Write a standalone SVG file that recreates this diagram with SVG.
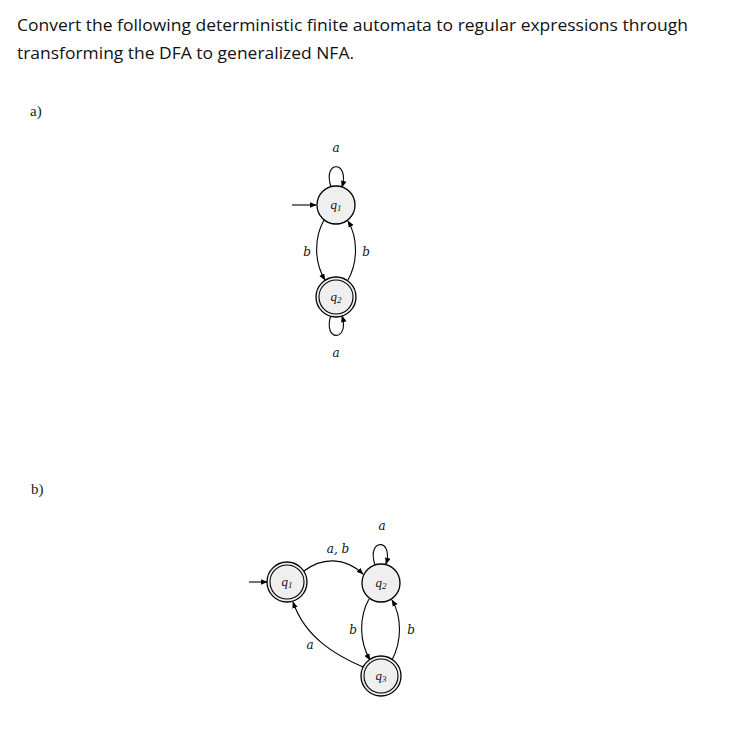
<svg xmlns="http://www.w3.org/2000/svg" width="752" height="745" viewBox="0 0 752 745">
<defs>
<style>
.st{fill:#efefef;stroke:#000;stroke-width:1.3}
.in{fill:none;stroke:#000;stroke-width:1.1}
.e{fill:none;stroke:#000;stroke-width:1.1}
.lb{font-family:"DejaVu Serif","Liberation Serif",serif;font-style:italic;font-size:12px;fill:#111;text-anchor:middle}
.st-t{font-family:"Liberation Serif",serif;font-style:italic;font-size:13px;fill:#111;text-anchor:middle}
.sub{font-family:"Liberation Serif",serif;font-size:9px}
.ttl{font-family:"Open Sans","Liberation Sans",sans-serif;font-size:17px;fill:#111}
.part{font-family:"Liberation Serif",serif;font-size:15px;fill:#222}
</style>
<marker id="ar" viewBox="0 0 10 10" refX="9" refY="5" markerWidth="7" markerHeight="7" orient="auto" markerUnits="userSpaceOnUse">
<path d="M0,1 L10,5 L0,9 z" fill="#000"/>
</marker>
</defs>
<rect width="752" height="745" fill="#fff"/>
<text class="ttl" x="17" y="31" textLength="671" lengthAdjust="spacingAndGlyphs">Convert the following deterministic finite automata to regular expressions through</text>
<text class="ttl" x="17" y="59" textLength="337" lengthAdjust="spacingAndGlyphs">transforming the DFA to generalized NFA.</text>
<text class="part" x="30" y="116">a)</text>
<text class="part" x="31" y="494">b)</text>

<g id="connectors">
<!-- diagram a -->
<path class="e" d="M292,205 L316,205" marker-end="url(#ar)"/>
<path class="e" d="M331,187 C322,160 350,160 342,187" marker-end="url(#ar)"/>
<path class="e" d="M331,315 C322,342 350,342 342,316" marker-end="url(#ar)"/>
<path class="e" d="M324,220 C314,238 314,262 325,280" marker-end="url(#ar)"/>
<path class="e" d="M348,280 C358,262 358,238 348,221" marker-end="url(#ar)"/>
<!-- diagram b -->
<path class="e" d="M249,582 L267,582" marker-end="url(#ar)"/>
<path class="e" d="M304,571 C322,557 345,557 363,574" marker-end="url(#ar)"/>
<path class="e" d="M375,565 C366,538 394,538 386,564" marker-end="url(#ar)"/>
<path class="e" d="M369,599 C359,617 359,641 370,660" marker-end="url(#ar)"/>
<path class="e" d="M392,660 C402,641 402,617 392,600" marker-end="url(#ar)"/>
<path class="e" d="M363,667 C335,655 305,637 293,602" marker-end="url(#ar)"/>
</g>

<g id="labels">
<text class="lb" x="336" y="152">a</text>
<text class="lb" x="336" y="357">a</text>
<text class="lb" x="307" y="256">b</text>
<text class="lb" x="366" y="256">b</text>
<text class="lb" x="338" y="553">a, b</text>
<text class="lb" x="382" y="530">a</text>
<text class="lb" x="353" y="634">b</text>
<text class="lb" x="411" y="634">b</text>
<text class="lb" x="310" y="649">a</text>
</g>

<g id="a-q1">
<circle class="st" cx="336" cy="205" r="19"/>
<text class="st-t" x="336" y="209">q<tspan class="sub" dy="2">1</tspan></text>
</g>
<g id="a-q2">
<circle class="st" cx="336" cy="297" r="20"/>
<circle class="in" cx="336" cy="297" r="17"/>
<text class="st-t" x="336" y="301">q<tspan class="sub" dy="2">2</tspan></text>
</g>
<g id="b-q1">
<circle class="st" cx="287" cy="582" r="20"/>
<circle class="in" cx="287" cy="582" r="17"/>
<text class="st-t" x="287" y="586">q<tspan class="sub" dy="2">1</tspan></text>
</g>
<g id="b-q2">
<circle class="st" cx="381" cy="583" r="19"/>
<text class="st-t" x="381" y="587">q<tspan class="sub" dy="2">2</tspan></text>
</g>
<g id="b-q3">
<circle class="st" cx="381" cy="676" r="20"/>
<circle class="in" cx="381" cy="676" r="17"/>
<text class="st-t" x="381" y="680">q<tspan class="sub" dy="2">3</tspan></text>
</g>
</svg>
